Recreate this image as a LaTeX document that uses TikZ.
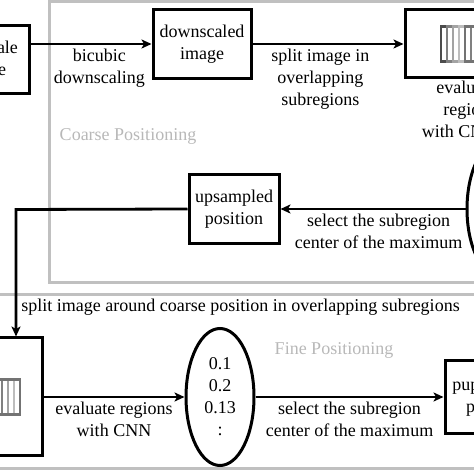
\documentclass[tikz,border=0pt]{standalone}
\usepackage{fontspec}
\setmainfont{Liberation Serif}
\usepackage{tikz}
\usetikzlibrary{shapes}
\usetikzlibrary{arrows.meta}
\usetikzlibrary{calc}
\usetikzlibrary{positioning}
\usepackage{xcolor}
\definecolor{framegray}{HTML}{C0C0C0}
\definecolor{labelgray}{HTML}{B8B8B8}
\tikzset{x=1pt, y=1pt, node distance=1cm, every node/.style={align=center}, every text node part/.style={font={\fontsize{18}{22}\selectfont}}}
\tikzstyle{block} = [draw=black, fill=white, line width=3pt, inner sep=4pt]
\tikzstyle{scores} = [ellipse, draw=black, line width=3pt, minimum width=68pt, minimum height=137pt, inner sep=0pt]
\tikzstyle{ln} = [draw, line width=2.8pt, arrows={-Stealth[length=10pt, width=9pt, inset=2.5pt]}]
\tikzstyle{stage} = [draw=framegray, line width=3pt]
\tikzstyle{stagelabel} = [text=labelgray]

\begin{document}
\begin{tikzpicture}
  \useasboundingbox (0,0) rectangle (474,474);
  \clip (0,0) rectangle (474,474);
  \draw[stage] (49,472.5) rectangle (540,191);
  \draw[stage] (-20,179) rectangle (540,5);
  \node[stagelabel] (coarse) at (128,338) {Coarse Positioning};
  \node[stagelabel] (fine) at (334,124) {Fine Positioning};
  \node[block, minimum width=90pt, minimum height=68pt] (src) at (-16,414) {grayscale\\image};
  \node[block, minimum width=98pt, minimum height=69pt] (down) at (202,430) {downscaled\\image};
  \node[block, right=151pt of down, minimum width=120pt, minimum height=68pt] (cnncoarse) {};
  \node[scores] (coarsescores) at (501,265) {};
  \node[block, left=185pt of coarsescores, minimum width=90pt, minimum height=69pt] (upsampled) {upsampled\\position};
  \coordinate (bend) at (16,264.5);
  \node (splitlbl) at (240.5,167) {split image around coarse position in overlapping subregions};
  \node[block, minimum width=92pt, minimum height=118pt] (cnnfine) at (-4,77) {};
  \node[scores, right=141pt of cnnfine] (finescores) {0.1\\0.2\\0.13\\:};
  \node[block, right=188pt of finescores, minimum width=100pt, minimum height=73pt] (pupil) {pupil center\\position};
  \foreach \n in {cnncoarse, cnnfine}
    \foreach \i/\c in {0/black!70, 1/black!50, 2/black!36, 3/black!26, 4/black!55}
      \draw[\c, line width=2.2pt] ([xshift=\i*6pt-24pt, yshift=-17.5pt]\n.center) rectangle ++(24,35);
  \draw[ln] (src.east |- down.west) -- node[below, pos=0.57] {bicubic\\downscaling} (down.west);
  \draw[ln] (down) -- node[below, pos=0.45] {split image in\\overlapping\\subregions} (cnncoarse);
  \draw[ln] (cnncoarse.south -| coarsescores.north) -- node[left, align=right] {evaluate\\regions\\with CNN} (coarsescores.north);
  \draw[ln] (coarsescores) -- node[below, pos=0.47] {select the subregion\\center of the maximum} (upsampled);
  \draw[ln] (upsampled.west) -- (bend) -- (bend |- cnnfine.north);
  \draw[ln] (cnnfine) -- node[below] {evaluate regions\\with CNN} (finescores);
  \draw[ln] (finescores) -- node[below] {select the subregion\\center of the maximum} (pupil);
\end{tikzpicture}
\end{document}
